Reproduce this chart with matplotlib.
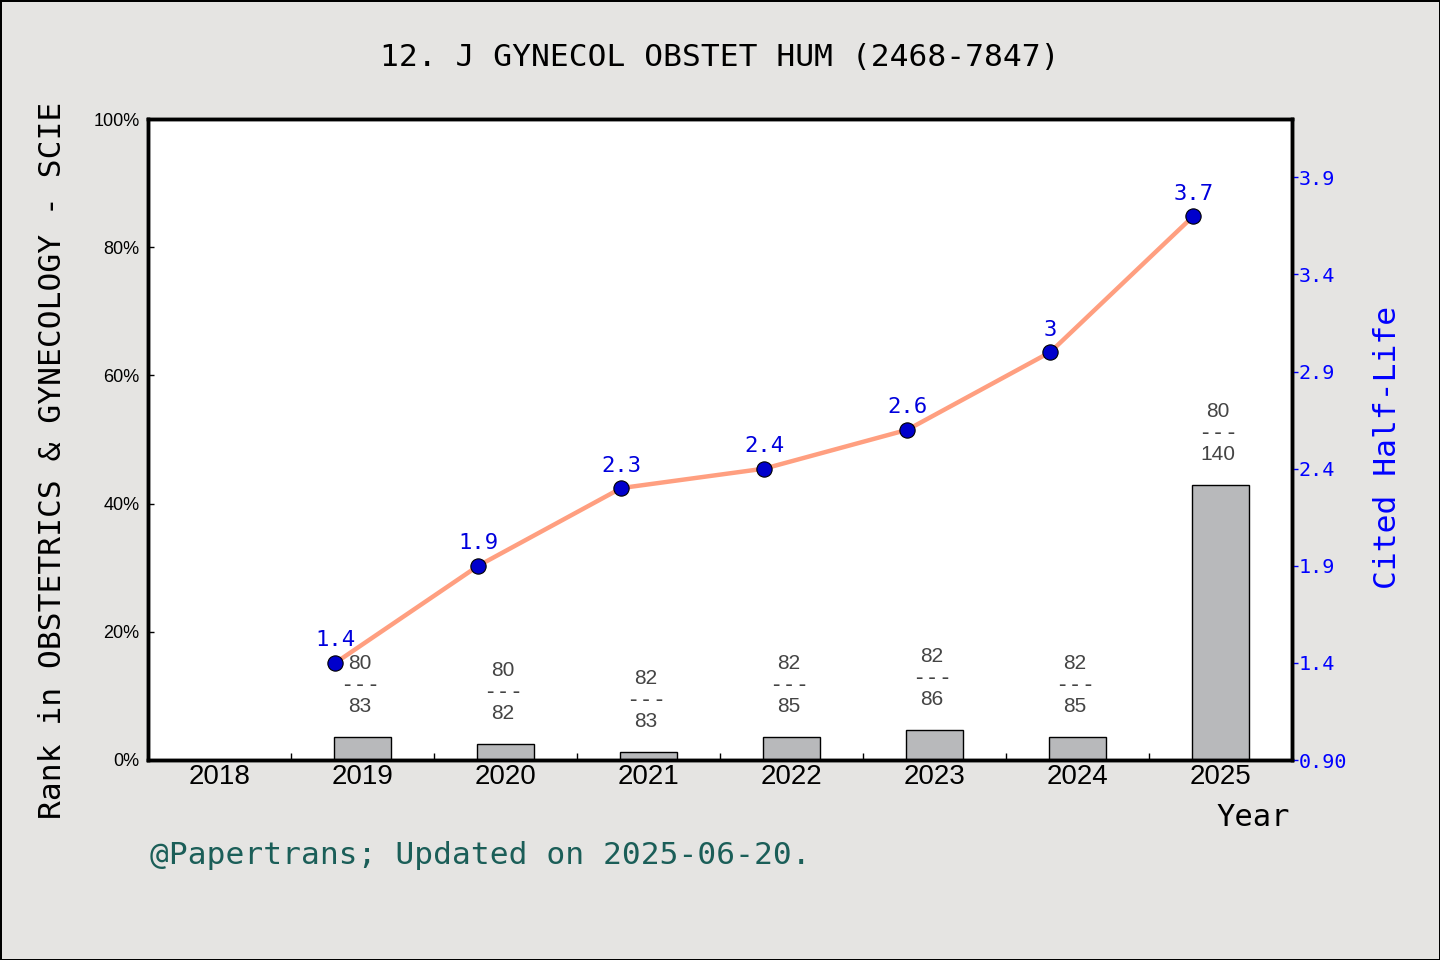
import matplotlib
matplotlib.use('Agg')
import matplotlib.pyplot as plt
from matplotlib.ticker import FuncFormatter

# ── Data ──────────────────────────────────────────────────────────────────────
years       = ['2018', '2019', '2020', '2021', '2022', '2023', '2024', '2025']
ranks       = [None, 80, 80, 82, 82, 82, 82, 80]
totals      = [None, 83, 82, 83, 85, 86, 85, 140]
half_life   = [None, 1.4, 1.9, 2.3, 2.4, 2.6, 3.0, 3.7]
hl_labels   = ['', '1.4', '1.9', '2.3', '2.4', '2.6', '3', '3.7']
right_ticks = [0.90, 1.4, 1.9, 2.4, 2.9, 3.4, 3.9]
right_tick_labels = ['0.90', '1.4', '1.9', '2.4', '2.9', '3.4', '3.9']

TITLE  = '12. J GYNECOL OBSTET HUM (2468-7847)'
YLABEL = 'Rank in OBSTETRICS & GYNECOLOGY - SCIE'
FOOTER = '@Papertrans; Updated on 2025-06-20.'

BG     = '#e5e4e2'
MONO   = 'DejaVu Sans Mono'
SANS   = 'Liberation Sans'

# ── Figure ────────────────────────────────────────────────────────────────────
fig = plt.figure(figsize=(14.4, 9.6), dpi=100, facecolor=BG,
                 edgecolor='black', linewidth=2)
ax = fig.add_axes([148/1440, 1 - 760/960, 1144/1440, 641/960])
ax.set_facecolor('white')

# bars: share of journals ranked below, with rank / total label
xs = list(range(len(years)))
for i, (r, t) in enumerate(zip(ranks, totals)):
    if r is None:
        continue
    h = (t - r) / t * 100
    ax.bar(i, h, width=0.4, color='#b8b9bb', edgecolor='black', linewidth=1, zorder=2)
    for txt, dy, fam, fs in [(str(t), 22, SANS, 15), ('---', 37.5, MONO, 16),
                             (str(r), 53, SANS, 15)]:
        ax.annotate(txt, (i, h), xytext=(-2, dy), textcoords='offset points',
                    ha='center', va='center', fontsize=fs, color='#444444', family=fam)

ax.set_xlim(-0.5, len(years) - 0.5)
ax.set_ylim(0, 100)
ax.set_yticks([0, 20, 40, 60, 80, 100])
ax.yaxis.set_major_formatter(FuncFormatter(lambda v, p: f'{v:.0f}%'))
ax.tick_params(axis='y', direction='in', length=4, width=1, labelsize=13, pad=6)
for lab in ax.get_yticklabels():
    lab.set_family(SANS)

ax.set_xticks(xs)
ax.set_xticklabels(years, fontsize=20, family=SANS)
ax.tick_params(axis='x', length=0, pad=3)
ax.set_xticks([i + 0.5 for i in xs[:-1]], minor=True)
ax.tick_params(axis='x', which='minor', direction='in', length=5, width=1)

for sp in ax.spines.values():
    sp.set_linewidth(2.5)

ax.set_ylabel(YLABEL, fontsize=22.5, family=MONO)
ax.yaxis.set_label_coords(-0.071, 0.468)

# line: cited half-life on right axis
ax2 = ax.twinx()
lx = [i - 0.19 for i, v in enumerate(half_life) if v is not None]
ly = [v for v in half_life if v is not None]
ax2.plot(lx, ly, color='#ff9f80', lw=3.2, zorder=3)
ax2.plot(lx, ly, 'o', color='#0000cc', markeredgecolor='black',
         markeredgewidth=0.8, markersize=11, zorder=4)
for x, y, s in zip(lx, ly, [l for l in hl_labels if l]):
    ax2.annotate(s, (x, y), xytext=(0, 9), textcoords='offset points',
                 ha='center', va='bottom', fontsize=16, color='#0000dd', family=MONO)

ax2.set_ylim(0.9, 4.2)
ax2.set_yticks(right_ticks)
ax2.set_yticklabels(right_tick_labels, family=MONO, fontsize=14.5, color='#0000ff')
ax2.tick_params(axis='y', direction='out', length=4, width=1, colors='#0000ff', pad=1)
ax2.set_ylabel('Cited Half-Life', fontsize=22.5, family=MONO, color='#0000ff')
ax2.yaxis.set_label_coords(1.0708, 0.4875)
for sp in ax2.spines.values():
    sp.set_linewidth(2.5)

# texts
fig.text(720/1440, 1 - 57/960, TITLE, ha='center', va='center', fontsize=22.5, family=MONO)
fig.text(1253/1440, 1 - 817/960, 'Year', ha='center', va='center', fontsize=22, family=MONO)
fig.text(150/1440, 1 - 855/960, FOOTER, ha='left', va='center', fontsize=22.5,
         family=MONO, color='#1b5e58')

fig.savefig('out.png', dpi=100, facecolor=BG, edgecolor='black')
